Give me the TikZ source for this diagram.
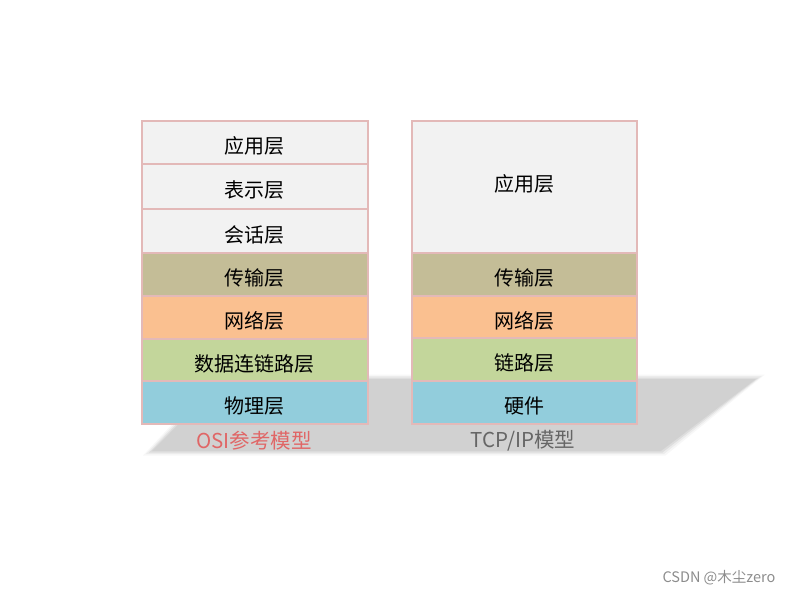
\documentclass[tikz,border=0pt]{standalone}
\usepackage{fontspec}
\setmainfont{Noto Sans CJK SC}
\newfontfamily\cjk{Noto Sans CJK SC}
\usetikzlibrary{positioning}
\definecolor{bordc}{HTML}{E3B9B8}
\definecolor{cgray}{HTML}{F2F2F2}
\definecolor{ctan}{HTML}{C4BD97}
\definecolor{corange}{HTML}{FAC090}
\definecolor{cgreen}{HTML}{C3D69B}
\definecolor{cblue}{HTML}{92CDDC}
\definecolor{cred}{HTML}{E06666}
\definecolor{cshadow}{HTML}{C0C0C0}
\tikzset{
  layer/.style={draw=bordc, line width=1.6pt, anchor=north west, minimum width=226pt,
    inner sep=0pt, text height=23pt, text depth=0pt,
    font=\cjk\fontsize{20}{22}\selectfont, text=black},
  caption/.style={font=\cjk\fontsize{20.5}{22}\selectfont},
}
\begin{document}
\begin{tikzpicture}[x=1pt,y=-1pt]
\useasboundingbox (0,0) rectangle (796,597);
% shadow
\foreach \o/\a in {7/0.12,4/0.2,1/0.35,-2/0.4}{
  \fill[cshadow, opacity=\a] (150-\o,452+\o*0.5) -- (222-\o*0.5,378-\o*0.5) -- (758+\o,378-\o*0.5) -- (662+\o*0.5,452+\o*0.5) -- cycle;
}
% OSI column
\node[layer, fill=cgray,   minimum height=43pt] (o1) at (141,120) {应用层};
\node[layer, fill=cgray,   minimum height=45pt] (o2) at (141,163) {表示层};
\node[layer, fill=cgray,   minimum height=44pt] (o3) at (141,208) {会话层};
\node[layer, fill=ctan,    minimum height=43pt] (o4) at (141,252) {传输层};
\node[layer, fill=corange, minimum height=43pt] (o5) at (141,295) {网络层};
\node[layer, fill=cgreen,  minimum height=42pt] (o6) at (141,338) {数据连链路层};
\node[layer, fill=cblue,   minimum height=43pt] (o7) at (141,380) {物理层};
% TCP/IP column
\node[layer, fill=cgray,   minimum height=132pt, minimum width=225pt, text height=9pt] (t1) at (411,120) {应用层};
\node[layer, fill=ctan,    minimum height=43pt, minimum width=225pt] (t2) at (411,252) {传输层};
\node[layer, fill=corange, minimum height=42pt, minimum width=225pt] (t3) at (411,295) {网络层};
\node[layer, fill=cgreen,  minimum height=43pt, minimum width=225pt] (t4) at (411,337) {链路层};
\node[layer, fill=cblue,   minimum height=43pt, minimum width=225pt] (t5) at (411,380) {硬件};
% captions
\node[caption, text=cred] (osi) at (254,441) {OSI参考模型};
\node[caption, text=black!60] (tcp) at (523,441) {TCP/IP模型};
% watermark
\node[font=\cjk\fontsize{14.5}{16}\selectfont, text=black!45] (wm) at (719,578) {CSDN @木尘zero};
\end{tikzpicture}
\end{document}
